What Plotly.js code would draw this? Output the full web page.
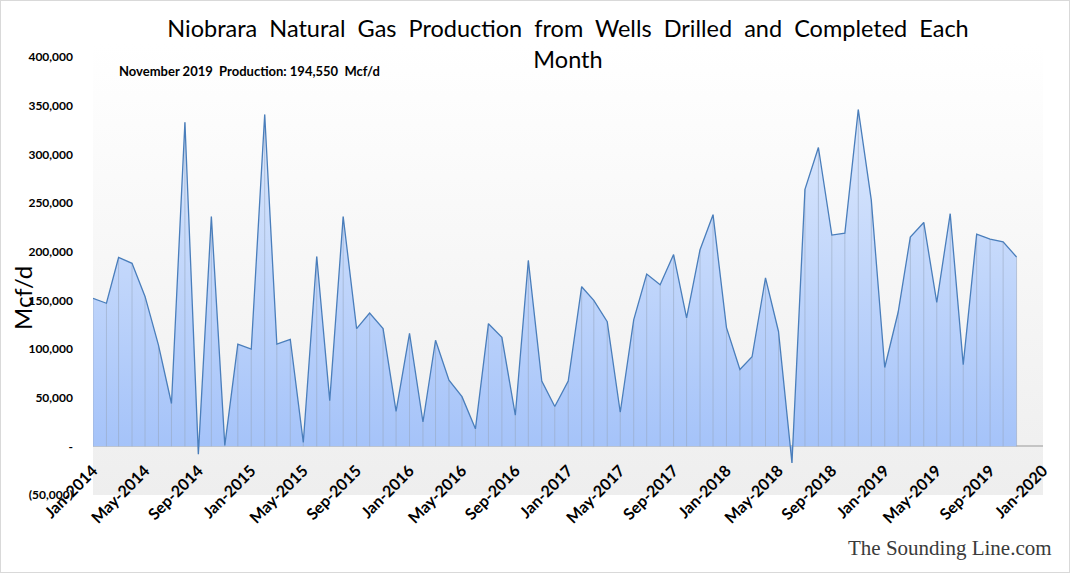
<!DOCTYPE html>
<html>
<head>
<meta charset="utf-8">
<script src="https://cdn.plot.ly/plotly-3.0.1.min.js"></script>
<style>
  html, body { margin: 0; padding: 0; background: #ffffff; }
  #wrap { position: relative; width: 1070px; height: 573px; }
  #chart { width: 1070px; height: 573px; }
  #frame { position: absolute; left: 0; top: 0; width: 1068px; height: 571px; border: 1px solid #d9d9d9; pointer-events: none; }
</style>
</head>
<body>
<div id="wrap"><div id="chart"></div><div id="frame"></div></div>
<script>
// ---- Data ----
const months = [
  '2014-01-01','2014-02-01','2014-03-01','2014-04-01','2014-05-01','2014-06-01','2014-07-01','2014-08-01','2014-09-01','2014-10-01','2014-11-01','2014-12-01',
  '2015-01-01','2015-02-01','2015-03-01','2015-04-01','2015-05-01','2015-06-01','2015-07-01','2015-08-01','2015-09-01','2015-10-01','2015-11-01','2015-12-01',
  '2016-01-01','2016-02-01','2016-03-01','2016-04-01','2016-05-01','2016-06-01','2016-07-01','2016-08-01','2016-09-01','2016-10-01','2016-11-01','2016-12-01',
  '2017-01-01','2017-02-01','2017-03-01','2017-04-01','2017-05-01','2017-06-01','2017-07-01','2017-08-01','2017-09-01','2017-10-01','2017-11-01','2017-12-01',
  '2018-01-01','2018-02-01','2018-03-01','2018-04-01','2018-05-01','2018-06-01','2018-07-01','2018-08-01','2018-09-01','2018-10-01','2018-11-01','2018-12-01',
  '2019-01-01','2019-02-01','2019-03-01','2019-04-01','2019-05-01','2019-06-01','2019-07-01','2019-08-01','2019-09-01','2019-10-01','2019-11-01'
];
const production = [
  152000, 147000, 194000, 188000, 154000, 104000, 44000, 333000, -8000, 236000, 1000, 105000,
  100000, 341000, 105000, 110000, 4000, 195000, 47000, 236000, 121000, 137000, 121000, 36000,
  116000, 25000, 109000, 68000, 51000, 18000, 126000, 112000, 32000, 191000, 67000, 41000,
  67000, 164000, 150000, 128000, 35000, 130000, 177000, 166000, 197000, 132000, 202000, 238000,
  122000, 79000, 92000, 173000, 118000, -17000, 264000, 307000, 217000, 219000, 346000, 253000,
  81000, 138000, 215000, 230000, 148000, 239000, 84000, 218000, 213000, 210000, 194550
];
const yTickVals = [-50000, 0, 50000, 100000, 150000, 200000, 250000, 300000, 350000, 400000];
const yTickText = ['(50,000)', '-', '50,000', '100,000', '150,000', '200,000', '250,000', '300,000', '350,000', '400,000'];
const titleText = 'Niobrara  Natural  Gas  Production  from  Wells  Drilled  and  Completed  Each<br>Month';
const noteText = 'November 2019  Production: 194,550  Mcf/d';

// drop lines from each point to the baseline
const dropX = [], dropY = [];
months.forEach((m, i) => { dropX.push(m, m, null); dropY.push(0, production[i], null); });

const bgSvg = "<svg xmlns='http://www.w3.org/2000/svg' width='10' height='100' preserveAspectRatio='none'>" +
  "<defs><linearGradient id='g' x1='0' y1='0' x2='0' y2='1'><stop offset='0' stop-color='#ffffff'/>" +
  "<stop offset='1' stop-color='#eeeeee'/></linearGradient></defs><rect width='10' height='100' fill='url(#g)'/></svg>";
const bgUri = 'data:image/svg+xml;charset=utf-8,' + encodeURIComponent(bgSvg);

const font = 'Lato, "Open Sans", sans-serif';

const traces = [
  {
    x: months, y: production, type: 'scatter', mode: 'lines',
    fill: 'tozeroy',
    fillgradient: { type: 'vertical', start: 0, stop: 350000, colorscale: [[0, '#a5c3f9'], [1, '#dde9fd']] },
    line: { width: 0, color: 'rgba(0,0,0,0)' },
    hoverinfo: 'skip', showlegend: false
  },
  {
    x: dropX, y: dropY, type: 'scatter', mode: 'lines',
    line: { width: 1, color: 'rgba(150,165,190,0.55)' },
    hoverinfo: 'skip', showlegend: false
  },
  {
    x: months, y: production, type: 'scatter', mode: 'lines',
    line: { width: 1.3, color: '#4a7ebb' },
    showlegend: false
  }
];

const layout = {
  width: 1070, height: 573,
  margin: { l: 93, r: 27, t: 57, b: 78 },
  paper_bgcolor: 'rgba(0,0,0,0)',
  plot_bgcolor: 'rgba(0,0,0,0)',
  font: { family: font, color: '#000000' },
  title: {
    text: titleText,
    font: { family: font, size: 23.5, color: '#000000' },
    x: 0.5, xanchor: 'center', xref: 'paper',
    y: 1 - 37 / 573, yanchor: 'top', yref: 'container'
  },
  xaxis: {
    type: 'date',
    range: ['2014-01-01', '2020-01-01'],
    tick0: '2014-01-01', dtick: 'M4', tickformat: '%b-%Y',
    tickangle: -45,
    tickfont: { family: font, size: 16, color: '#000000', weight: 'bold' },
    showgrid: false, showline: false, zeroline: false, ticks: '',
    anchor: 'free', position: 50000 / 450000 - 0.025
  },
  yaxis: {
    range: [-50000, 400000],
    tickvals: yTickVals, ticktext: yTickText,
    tickfont: { family: font, size: 12, color: '#000000', weight: 'bold' },
    ticklabelstandoff: 19,
    showgrid: false, showline: false, ticks: '',
    zeroline: true, zerolinecolor: '#c4c4c4', zerolinewidth: 2
  },
  images: [{
    source: bgUri, xref: 'paper', yref: 'paper', x: 0, y: 1.03, sizex: 1, sizey: 1.03,
    sizing: 'stretch', xanchor: 'left', yanchor: 'top', layer: 'below'
  }],
  annotations: [
    {
      text: 'Mcf/d', textangle: -90, showarrow: false,
      xref: 'paper', yref: 'paper', x: (22 - 93) / 950, y: (495 - 298) / 438,
      xanchor: 'center', yanchor: 'middle',
      font: { family: font, size: 24, color: '#000000' }
    },
    {
      text: noteText, showarrow: false,
      xref: 'paper', yref: 'paper', x: (117 - 93) / 950, y: (495 - 71) / 438,
      xanchor: 'left', yanchor: 'middle',
      font: { family: font, size: 13, color: '#000000', weight: 'bold' }
    },
    {
      text: 'The Sounding Line.com', showarrow: false,
      xref: 'paper', yref: 'paper', x: (1054 - 93) / 950, y: (495 - 548) / 438,
      xanchor: 'right', yanchor: 'middle',
      font: { family: '"Liberation Serif", serif', size: 21, color: '#3a3a3a' }
    }
  ]
};

Plotly.newPlot('chart', traces, layout, { displayModeBar: false, staticPlot: true });
</script>
</body>
</html>
